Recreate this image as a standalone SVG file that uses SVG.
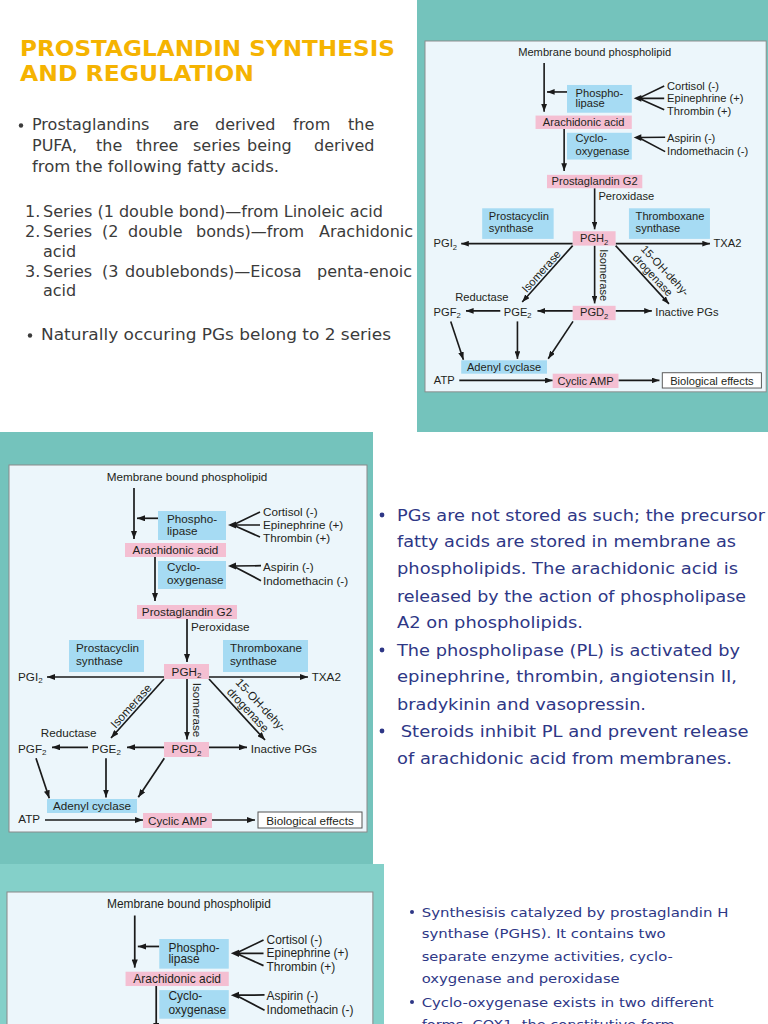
<svg xmlns="http://www.w3.org/2000/svg" xmlns:xlink="http://www.w3.org/1999/xlink" width="768" height="1024" viewBox="0 0 768 1024">
<style>
.dt{font-family:"Liberation Sans",Arial,sans-serif;font-size:11.7px;fill:#231f20}
.mid{text-anchor:middle}
.sub{font-size:8px}
.blue{fill:#a6dbf3}
.pink{fill:#f4bfd2}
.cn{stroke:#1a1a1a;stroke-width:1.7;fill:none}
.cnh{stroke:#1a1a1a;stroke-width:1.7;fill:none;marker-end:url(#arr)}
.wedge{fill:#1a1a1a}
.teal{fill:#74c3bc}
.teal2{fill:#84d0c9}
.title{font-family:"DejaVu Sans","Liberation Sans",sans-serif;font-weight:700;font-size:21px;fill:#f5b301}
.body{font-family:"DejaVu Sans","Liberation Sans",sans-serif;font-size:16px;fill:#3b3b3b}
.navy{font-family:"DejaVu Sans","Liberation Sans",sans-serif;font-size:15.5px;fill:#2e3786}
.navy2{font-family:"DejaVu Sans","Liberation Sans",sans-serif;font-size:13px;fill:#2e3786}
</style>
<defs>
<marker id="arr" viewBox="0 0 8 6" refX="8" refY="3" markerWidth="8" markerHeight="6" orient="auto" markerUnits="userSpaceOnUse"><path d="M0,0 L8,3 L0,6 z" fill="#1a1a1a"/></marker>
<g id="pgDiagram">
<rect x="0" y="0" width="358" height="367" fill="#ecf6fb" stroke="#8a8a8a" stroke-width="1"/>
<g id="connectors">
<path class="cnh" d="M125,23 V74"/>
<path class="cnh" d="M149,53.3 H128"/>
<path class="cn" d="M251,47 L224,60 M251,60 L224,60 M251,72 L224,60"/>
<polygon class="wedge" points="219,60 227,56.5 227,63.5"/>
<path class="cnh" d="M146,92 V136"/>
<path class="cn" d="M252,100.7 L224,101 M252,115.7 L224,101"/>
<polygon class="wedge" points="219,101 227,97.5 227,104.5"/>
<path class="cnh" d="M178,154 V197"/>
<path class="cnh" d="M155,212 H38"/>
<path class="cnh" d="M200,212 H299"/>
<path class="cnh" d="M155,214 L102,273"/>
<path class="cnh" d="M178,214 V274.5"/>
<path class="cnh" d="M200,214 L256,275"/>
<path class="cnh" d="M79,282.3 H43"/>
<path class="cnh" d="M155,282.3 H118"/>
<path class="cnh" d="M200,282.3 H238"/>
<path class="cnh" d="M27,293.3 L40.3,333.3"/>
<path class="cnh" d="M97,293.3 V332.5"/>
<path class="cnh" d="M155.3,293.3 L129.3,332.3"/>
<path class="cnh" d="M36,355 H134"/>
<path class="cnh" d="M203,355 H246"/>
<text class="dt" transform="translate(122,241) rotate(-48)" text-anchor="middle" y="4">Isomerase</text>
<text class="dt" transform="translate(184,245) rotate(90)" text-anchor="middle" y="0">Isomerase</text>
<g transform="translate(245.5,242.5) rotate(47)">
<text class="dt mid" x="2.6" y="-2.4">15-OH-dehy-</text>
<text class="dt mid" x="-2.6" y="10.4">drogenase</text>
</g>
<text class="dt" x="182" y="166">Peroxidase</text>
<text class="dt" x="31.7" y="271.7">Reductase</text>
</g>
<g id="n-membrane"><text class="dt mid" x="178" y="16">Membrane bound phospholipid</text></g>
<g id="n-phospholipase"><rect class="blue" x="149" y="46" width="68" height="29"/><text class="dt" x="158" y="58.3">Phospho-</text><text class="dt" x="158" y="69.5">lipase</text></g>
<g id="n-cortisol"><text class="dt" x="254" y="51">Cortisol (-)</text></g>
<g id="n-epinephrine"><text class="dt" x="254" y="64">Epinephrine (+)</text></g>
<g id="n-thrombin"><text class="dt" x="254" y="77">Thrombin (+)</text></g>
<g id="n-arachidonic"><rect class="pink" x="116" y="78" width="101" height="14"/><text class="dt mid" x="166.5" y="89">Arachidonic acid</text></g>
<g id="n-cox"><rect class="blue" x="149" y="96" width="68" height="28"/><text class="dt" x="158" y="105.7">Cyclo-</text><text class="dt" x="158" y="119">oxygenase</text></g>
<g id="n-aspirin"><text class="dt" x="254" y="105.7">Aspirin (-)</text></g>
<g id="n-indomethacin"><text class="dt" x="254" y="119.7">Indomethacin (-)</text></g>
<g id="n-pgg2"><rect class="pink" x="128" y="140" width="100" height="14"/><text class="dt mid" x="178" y="151">Prostaglandin G2</text></g>
<g id="n-prostacyclin"><rect class="blue" x="60" y="175" width="75" height="32"/><text class="dt" x="67" y="187">Prostacyclin</text><text class="dt" x="67" y="199.5">synthase</text></g>
<g id="n-thromboxane"><rect class="blue" x="214" y="175" width="85" height="32"/><text class="dt" x="221" y="187">Thromboxane</text><text class="dt" x="221" y="199.5">synthase</text></g>
<g id="n-pgh2"><rect class="pink" x="155" y="199" width="45" height="15"/><text class="dt mid" x="177.5" y="210.5">PGH<tspan class="sub" dy="2.5">2</tspan></text></g>
<g id="n-pgi2"><text class="dt" x="9" y="215.7">PGI<tspan class="sub" dy="2.5">2</tspan></text></g>
<g id="n-txa2"><text class="dt" x="302.7" y="215.7">TXA2</text></g>
<g id="n-pgf2"><text class="dt" x="9" y="287.5">PGF<tspan class="sub" dy="2.5">2</tspan></text></g>
<g id="n-pge2"><text class="dt" x="82.7" y="287.5">PGE<tspan class="sub" dy="2.5">2</tspan></text></g>
<g id="n-pgd2"><rect class="pink" x="155" y="277" width="45" height="15"/><text class="dt mid" x="177.5" y="288">PGD<tspan class="sub" dy="2.5">2</tspan></text></g>
<g id="n-inactive"><text class="dt" x="241.7" y="287.5">Inactive PGs</text></g>
<g id="n-adenyl"><rect class="blue" x="38" y="334" width="90" height="14"/><text class="dt mid" x="83" y="345">Adenyl cyclase</text></g>
<g id="n-atp"><text class="dt" x="9.3" y="358.3">ATP</text></g>
<g id="n-camp"><rect class="pink" x="134" y="348" width="69" height="15"/><text class="dt mid" x="168.5" y="359.5">Cyclic AMP</text></g>
<g id="n-bio"><rect x="249" y="347" width="104" height="16" fill="#ffffff" stroke="#555" stroke-width="1"/><text class="dt mid" x="301" y="359.5">Biological effects</text></g>
</g>
</defs>
<rect x="0" y="0" width="768" height="1024" fill="#ffffff"/>
<rect class="teal" x="417" y="0" width="351" height="432"/>
<rect class="teal" x="0" y="432" width="373" height="432"/>
<rect class="teal2" x="0" y="864" width="384" height="160"/>
<use xlink:href="#pgDiagram" href="#pgDiagram" transform="translate(425,41) scale(0.953,0.956)"/>
<use xlink:href="#pgDiagram" href="#pgDiagram" transform="translate(9,465)"/>
<use xlink:href="#pgDiagram" href="#pgDiagram" transform="translate(7,892) scale(1.022)"/>
<g id="intro-text">
<text class="title" x="20" y="56" textLength="375" lengthAdjust="spacingAndGlyphs">PROSTAGLANDIN SYNTHESIS</text>
<text class="title" x="20" y="81" textLength="234" lengthAdjust="spacingAndGlyphs">AND REGULATION</text>
<circle cx="21" cy="125.5" r="2.2" fill="#3b3b3b"/>
<text class="body" y="130"><tspan x="32">Prostaglandins</tspan><tspan x="173">are</tspan><tspan x="215">derived</tspan><tspan x="293">from</tspan><tspan x="348">the</tspan></text>
<text class="body" y="151"><tspan x="32">PUFA,</tspan><tspan x="96">the</tspan><tspan x="136">three</tspan><tspan x="193">series</tspan><tspan x="247">being</tspan><tspan x="314">derived</tspan></text>
<text class="body" x="32" y="172" textLength="247" lengthAdjust="spacingAndGlyphs">from the following fatty acids.</text>
<text class="body" x="25" y="217">1.</text>
<text class="body" x="43" y="217" textLength="340" lengthAdjust="spacingAndGlyphs">Series (1 double bond)—from Linoleic acid</text>
<text class="body" x="25" y="237">2.</text>
<text class="body" y="237"><tspan x="43">Series</tspan><tspan x="102">(2</tspan><tspan x="128">double</tspan><tspan x="196">bonds)—from</tspan><tspan x="319">Arachidonic</tspan></text>
<text class="body" x="43" y="257">acid</text>
<text class="body" x="25" y="276.5">3.</text>
<text class="body" y="276.5"><tspan x="43">Series</tspan><tspan x="102">(3</tspan><tspan x="125">doublebonds)—Eicosa</tspan><tspan x="317">penta-enoic</tspan></text>
<text class="body" x="43" y="296">acid</text>
<circle cx="30" cy="335.5" r="2.2" fill="#3b3b3b"/>
<text class="body" x="41" y="340" textLength="350" lengthAdjust="spacingAndGlyphs">Naturally occuring PGs belong to 2 series</text>
</g>
<g id="storage-text">
<circle cx="382" cy="515" r="2.4" fill="#2e3786"/>
<text class="navy" x="397" y="520.7" textLength="368" lengthAdjust="spacingAndGlyphs">PGs are not stored as such; the precursor</text>
<text class="navy" x="397" y="547.3" textLength="339" lengthAdjust="spacingAndGlyphs">fatty acids are stored in membrane as</text>
<text class="navy" x="397" y="573.7" textLength="341" lengthAdjust="spacingAndGlyphs">phospholipids. The arachidonic acid is</text>
<text class="navy" x="397" y="601.7" textLength="349" lengthAdjust="spacingAndGlyphs">released by the action of phospholipase</text>
<text class="navy" x="397" y="628" textLength="186" lengthAdjust="spacingAndGlyphs">A2 on phospholipids.</text>
<circle cx="382" cy="650" r="2.4" fill="#2e3786"/>
<text class="navy" x="397" y="655.7" textLength="343" lengthAdjust="spacingAndGlyphs">The phospholipase (PL) is activated by</text>
<text class="navy" x="397" y="682" textLength="340" lengthAdjust="spacingAndGlyphs">epinephrine, thrombin, angiotensin II,</text>
<text class="navy" x="397" y="710" textLength="249" lengthAdjust="spacingAndGlyphs">bradykinin and vasopressin.</text>
<circle cx="382" cy="731" r="2.4" fill="#2e3786"/>
<text class="navy" x="400.7" y="736.7" textLength="348" lengthAdjust="spacingAndGlyphs">Steroids inhibit PL and prevent release</text>
<text class="navy" x="397" y="764" textLength="335" lengthAdjust="spacingAndGlyphs">of arachidonic acid from membranes.</text>
</g>
<g id="pghs-text">
<circle cx="412" cy="912" r="2" fill="#2e3786"/>
<text class="navy2" x="421.7" y="916.7" textLength="306.7" lengthAdjust="spacingAndGlyphs">Synthesisis catalyzed by prostaglandin H</text>
<text class="navy2" x="421.7" y="938.3" textLength="244" lengthAdjust="spacingAndGlyphs">synthase (PGHS). It contains two</text>
<text class="navy2" x="421.7" y="960.7" textLength="251" lengthAdjust="spacingAndGlyphs">separate enzyme activities, cyclo-</text>
<text class="navy2" x="421.7" y="983.3" textLength="198" lengthAdjust="spacingAndGlyphs">oxygenase and peroxidase</text>
<circle cx="412" cy="1002" r="2" fill="#2e3786"/>
<text class="navy2" x="421.7" y="1006.7" textLength="292" lengthAdjust="spacingAndGlyphs">Cyclo-oxygenase exists in two different</text>
<text class="navy2" x="421.7" y="1029" textLength="253" lengthAdjust="spacingAndGlyphs">forms, COX1, the constitutive form</text>
</g>
</svg>
